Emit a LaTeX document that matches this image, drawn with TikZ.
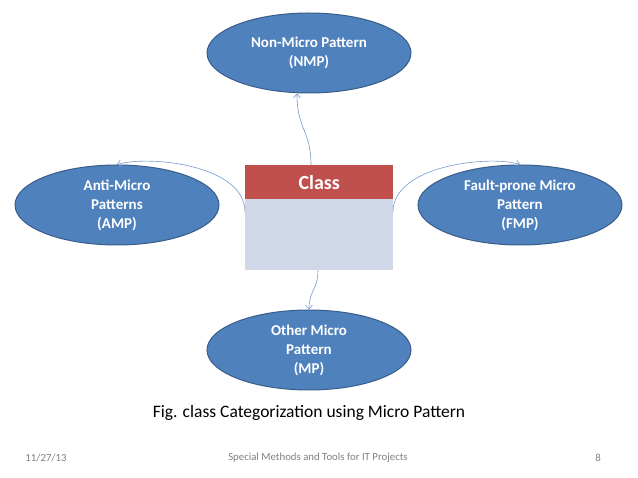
\documentclass[tikz,border=0pt]{standalone}
\usepackage{fontspec}
\setmainfont{Carlito}
\usetikzlibrary{shapes.geometric,arrows.meta}
\definecolor{eb}{HTML}{4F81BD}
\definecolor{ebd}{HTML}{385D8A}
\definecolor{cr}{HTML}{C0504D}
\definecolor{cb}{HTML}{D0D8E8}
\begin{document}
\begin{tikzpicture}[x=1pt,y=-1pt,
  ell/.style={ellipse,fill=eb,draw=ebd,line width=1pt,minimum width=204pt,minimum height=80pt,inner sep=0pt,text=white,align=center,font=\fontsize{15}{19}\selectfont\bfseries},
  con/.style={draw=eb!80,line width=0.6pt,-{Straight Barb[length=4pt,width=7pt]}},
  foot/.style={text=gray,font=\fontsize{10.8}{12}\selectfont}]
\useasboundingbox (0,0) rectangle (638,478);
\node[ell] (nmp) at (309,53) {Non-Micro Pattern\\(NMP)};
\node[ell] (amp) at (117,205) {Anti-Micro\\Patterns\\(AMP)};
\node[ell] (fmp) at (520,205) {Fault-prone Micro\\Pattern\\(FMP)};
\node[ell] (mp) at (309,350) {Other Micro\\Pattern\\(MP)};
\node[fill=cr,minimum width=148pt,minimum height=34pt,inner sep=0pt,anchor=north west,text=white,font=\fontsize{20}{22}\selectfont\bfseries] (cls) at (245,165) {Class};
\node[fill=cb,minimum width=148pt,minimum height=71pt,inner sep=0pt,anchor=north west] (body) at (245,199) {};
\coordinate (t1) at (311,165);
\coordinate (l1) at (245,212);
\coordinate (r1) at (393,212);
\coordinate (b1) at (318,270);
\draw[con] (t1) .. controls (311,130) and (297,130) .. (nmp.south -| 297,0);
\draw[con] (l1) .. controls (245,165) and (150,155) .. (amp.north);
\draw[con] (r1) .. controls (393,165) and (490,155) .. (fmp.north);
\draw[con] (b1) .. controls (318,290) and (309,290) .. (mp.north);
\node[font=\fontsize{17.5}{20}\selectfont] (cap) at (309,413) {Fig. class Categorization using Micro Pattern};
\node[foot] (d) at (46,458) {11/27/13};
\node[foot] (t) at (318,458) {Special Methods and Tools for IT Projects};
\node[foot] (p) at (598,458) {8};
\end{tikzpicture}
\end{document}
